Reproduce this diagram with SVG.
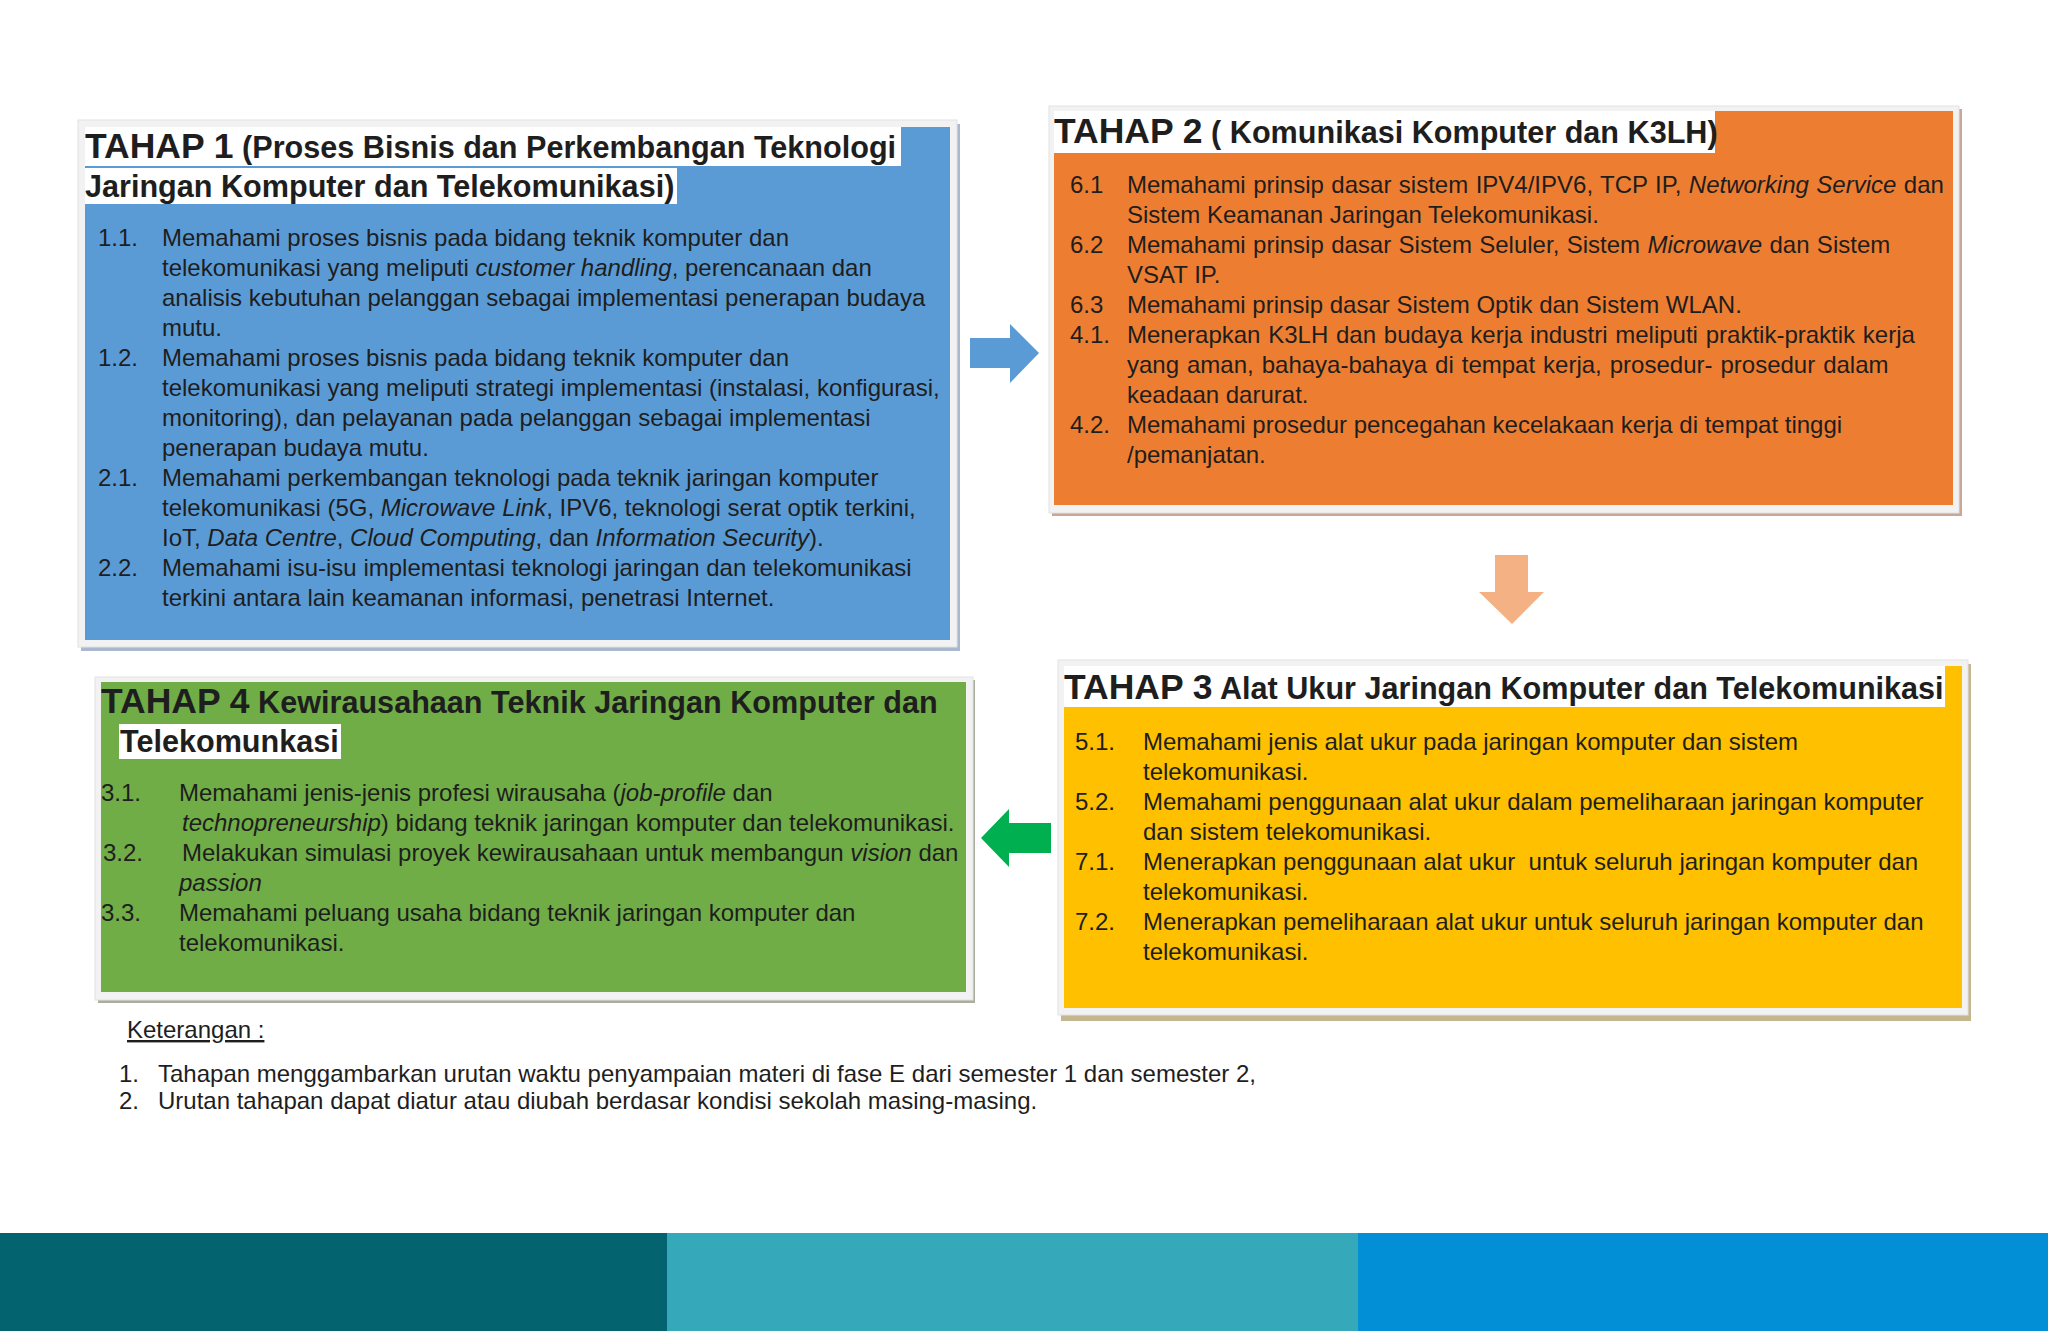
<svg xmlns="http://www.w3.org/2000/svg" width="2048" height="1340" viewBox="0 0 2048 1340">
<style>
.t{font-family:"Liberation Sans",Arial,sans-serif;font-size:24px;fill:#1e1e1e}
.h{font-family:"Liberation Sans",Arial,sans-serif;font-weight:bold;fill:#1e1e1e}
.big{font-size:35.5px}
.sub{font-size:30.6px}
.i{font-style:italic}
.frame{fill:#F2F2F2;stroke:#E2E2E2;stroke-width:1}
.tbg{fill:#FFFFFF}
</style>
<rect x="0" y="0" width="2048" height="1340" fill="#FFFFFF"/>

<g id="tahap1">
<rect x="81" y="124" width="879" height="527" fill="#A9B8CC"/>
<rect class="frame" x="78" y="120" width="879" height="527"/>
<rect x="85" y="127" width="865" height="513" fill="#5B9BD5"/>
<rect class="tbg" x="85" y="127" width="816" height="39"/>
<rect class="tbg" x="85" y="168" width="592" height="36"/>
<text class="h" x="85" y="158"><tspan class="big">TAHAP 1</tspan><tspan class="sub"> (Proses Bisnis dan Perkembangan Teknologi</tspan></text>
<text class="h sub" x="85" y="197">Jaringan Komputer dan Telekomunikasi)</text>
<text class="t" x="98" y="246">1.1.</text>
<text class="t" x="162" y="246">Memahami proses bisnis pada bidang teknik komputer dan</text>
<text class="t" x="162" y="276">telekomunikasi yang meliputi <tspan class="i">customer handling</tspan>, perencanaan dan</text>
<text class="t" x="162" y="306">analisis kebutuhan pelanggan sebagai implementasi penerapan budaya</text>
<text class="t" x="162" y="336">mutu.</text>
<text class="t" x="98" y="366">1.2.</text>
<text class="t" x="162" y="366">Memahami proses bisnis pada bidang teknik komputer dan</text>
<text class="t" x="162" y="396">telekomunikasi yang meliputi strategi implementasi (instalasi, konfigurasi,</text>
<text class="t" x="162" y="426">monitoring), dan pelayanan pada pelanggan sebagai implementasi</text>
<text class="t" x="162" y="456">penerapan budaya mutu.</text>
<text class="t" x="98" y="486">2.1.</text>
<text class="t" x="162" y="486">Memahami perkembangan teknologi pada teknik jaringan komputer</text>
<text class="t" x="162" y="516">telekomunikasi (5G, <tspan class="i">Microwave Link</tspan>, IPV6, teknologi serat optik terkini,</text>
<text class="t" x="162" y="546">IoT, <tspan class="i">Data Centre</tspan>, <tspan class="i">Cloud Computing</tspan>, dan <tspan class="i">Information Security</tspan>).</text>
<text class="t" x="98" y="576">2.2.</text>
<text class="t" x="162" y="576">Memahami isu-isu implementasi teknologi jaringan dan telekomunikasi</text>
<text class="t" x="162" y="606">terkini antara lain keamanan informasi, penetrasi Internet.</text>
</g>

<g id="tahap2">
<rect x="1052" y="109" width="910" height="407" fill="#C9A796"/>
<rect class="frame" x="1049" y="106" width="910" height="407"/>
<rect x="1054" y="111" width="899" height="394" fill="#ED7D31"/>
<rect class="tbg" x="1054" y="111" width="661" height="42"/>
<text class="h" x="1054" y="143"><tspan class="big">TAHAP 2</tspan><tspan class="sub"> ( Komunikasi Komputer dan K3LH)</tspan></text>
<text class="t" x="1070" y="193">6.1</text>
<text class="t" x="1127" y="193" word-spacing="0.8">Memahami prinsip dasar sistem IPV4/IPV6, TCP IP, <tspan class="i">Networking Service</tspan> dan</text>
<text class="t" x="1127" y="223">Sistem Keamanan Jaringan Telekomunikasi.</text>
<text class="t" x="1070" y="253">6.2</text>
<text class="t" x="1127" y="253" word-spacing="0.7">Memahami prinsip dasar Sistem Seluler, Sistem <tspan class="i">Microwave</tspan> dan Sistem</text>
<text class="t" x="1127" y="283">VSAT IP.</text>
<text class="t" x="1070" y="313">6.3</text>
<text class="t" x="1127" y="313">Memahami prinsip dasar Sistem Optik dan Sistem WLAN.</text>
<text class="t" x="1070" y="343">4.1.</text>
<text class="t" x="1127" y="343" word-spacing="1.1">Menerapkan K3LH dan budaya kerja industri meliputi praktik-praktik kerja</text>
<text class="t" x="1127" y="373" word-spacing="1.3">yang aman, bahaya-bahaya di tempat kerja, prosedur- prosedur dalam</text>
<text class="t" x="1127" y="403">keadaan darurat.</text>
<text class="t" x="1070" y="433">4.2.</text>
<text class="t" x="1127" y="433">Memahami prosedur pencegahan kecelakaan kerja di tempat tinggi</text>
<text class="t" x="1127" y="463">/pemanjatan.</text>
</g>

<g id="tahap3">
<rect x="1061" y="664" width="910" height="357" fill="#C4B68F"/>
<rect class="frame" x="1058" y="660" width="910" height="355"/>
<rect x="1064" y="666" width="898" height="342" fill="#FFC000"/>
<rect class="tbg" x="1064" y="666" width="881" height="41"/>
<text class="h" x="1064" y="699"><tspan class="big">TAHAP 3</tspan><tspan class="sub"> Alat Ukur Jaringan Komputer dan Telekomunikasi</tspan></text>
<text class="t" x="1075" y="750">5.1.</text>
<text class="t" x="1143" y="750">Memahami jenis alat ukur pada jaringan komputer dan sistem</text>
<text class="t" x="1143" y="780">telekomunikasi.</text>
<text class="t" x="1075" y="810">5.2.</text>
<text class="t" x="1143" y="810">Memahami penggunaan alat ukur dalam pemeliharaan jaringan komputer</text>
<text class="t" x="1143" y="840">dan sistem telekomunikasi.</text>
<text class="t" x="1075" y="870">7.1.</text>
<text class="t" x="1143" y="870" xml:space="preserve">Menerapkan penggunaan alat ukur  untuk seluruh jaringan komputer dan</text>
<text class="t" x="1143" y="900">telekomunikasi.</text>
<text class="t" x="1075" y="930">7.2.</text>
<text class="t" x="1143" y="930">Menerapkan pemeliharaan alat ukur untuk seluruh jaringan komputer dan</text>
<text class="t" x="1143" y="960">telekomunikasi.</text>
</g>

<g id="tahap4">
<rect x="98" y="680" width="877" height="323" fill="#AAAE9C"/>
<rect class="frame" x="95" y="677" width="878" height="323"/>
<rect x="101" y="682" width="865" height="310" fill="#70AD47"/>
<rect class="tbg" x="119" y="724" width="222" height="35"/>
<text class="h" x="101" y="713"><tspan class="big">TAHAP 4</tspan><tspan class="sub"> Kewirausahaan Teknik Jaringan Komputer dan</tspan></text>
<text class="h sub" x="120" y="752">Telekomunkasi</text>
<text class="t" x="101" y="801">3.1.</text>
<text class="t" x="179" y="801">Memahami jenis-jenis profesi wirausaha (<tspan class="i">job-profile</tspan> dan</text>
<text class="t" x="182" y="831"><tspan class="i">technopreneurship</tspan>) bidang teknik jaringan komputer dan telekomunikasi.</text>
<text class="t" x="103" y="861">3.2.</text>
<text class="t" x="182" y="861">Melakukan simulasi proyek kewirausahaan untuk membangun <tspan class="i">vision</tspan> dan</text>
<text class="t i" x="179" y="891">passion</text>
<text class="t" x="101" y="921">3.3.</text>
<text class="t" x="179" y="921">Memahami peluang usaha bidang teknik jaringan komputer dan</text>
<text class="t" x="179" y="951">telekomunikasi.</text>
</g>

<g id="connectors">
<polygon points="970,338 1010,338 1010,324 1039,353 1010,383 1010,368 970,368" fill="#5B9BD5"/>
<polygon points="1495,555 1528,555 1528,592 1544,592 1512,624 1479,592 1495,592" fill="#F4B183"/>
<polygon points="1051,823 1009,823 1009,809 981,838 1009,867 1009,853 1051,853" fill="#00B050"/>
</g>

<g id="keterangan">
<text class="t" x="127" y="1038" text-decoration="underline">Keterangan :</text>
<text class="t" x="119" y="1082">1.</text>
<text class="t" x="158" y="1082">Tahapan menggambarkan urutan waktu penyampaian materi di fase E dari semester 1 dan semester 2,</text>
<text class="t" x="119" y="1109">2.</text>
<text class="t" x="158" y="1109">Urutan tahapan dapat diatur atau diubah berdasar kondisi sekolah masing-masing.</text>
</g>

<g id="footer">
<rect x="0" y="1233" width="667" height="98" fill="#03636F"/>
<rect x="667" y="1233" width="691" height="98" fill="#35A9B9"/>
<rect x="1358" y="1233" width="690" height="98" fill="#038FD6"/>
</g>
</svg>
